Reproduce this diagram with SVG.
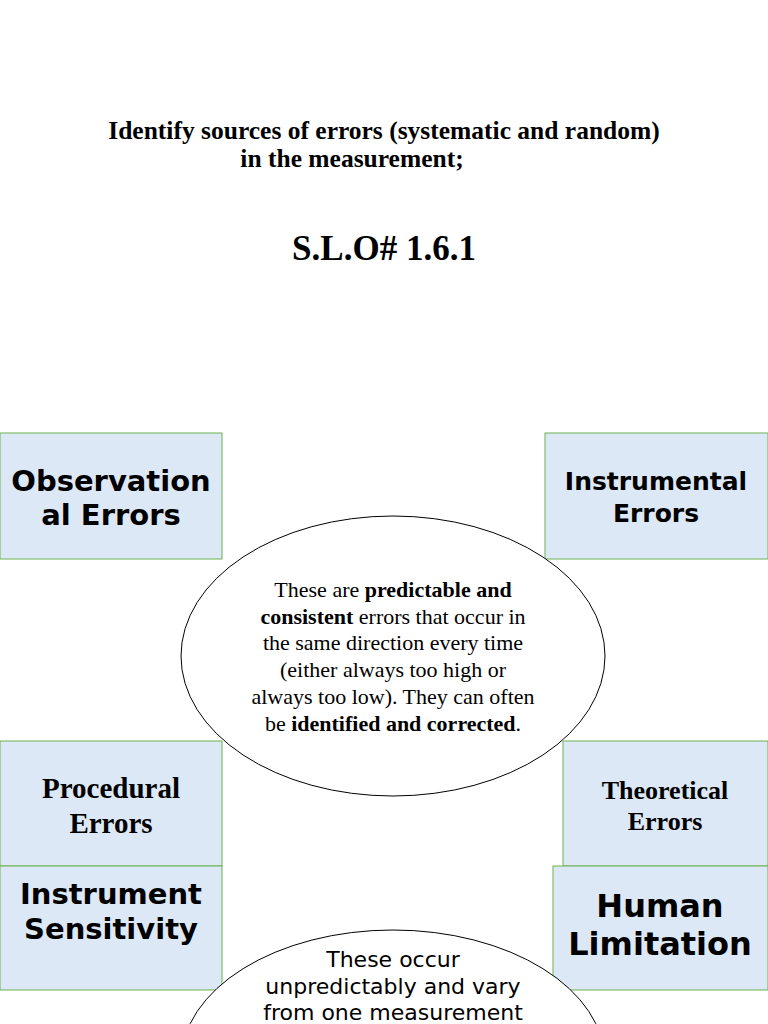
<svg xmlns="http://www.w3.org/2000/svg" width="768" height="1024" viewBox="0 0 768 1024">
<style>
.box{fill:#dce8f5;stroke:#6cb150;stroke-width:1}
.ell{fill:#fff;stroke:#000;stroke-width:1}
.sans{font-family:"DejaVu Sans",sans-serif;font-weight:bold;text-anchor:middle;fill:#000}
.serif{font-family:"Liberation Serif",serif;text-anchor:middle;fill:#000}
</style>
<rect width="768" height="1024" fill="#fff"/>
<g id="title">
<text class="serif" x="384" y="139" font-size="25.5" font-weight="bold">Identify sources of errors (systematic and random)</text>
<text class="serif" x="352" y="167" font-size="25.5" font-weight="bold">in the measurement;</text>
<text class="serif" x="384" y="260" font-size="35" font-weight="bold">S.L.O# 1.6.1</text>
</g>
<g id="connectors"></g>
<g id="observational"><rect class="box" x="0" y="433" width="222" height="126"/>
<text class="sans" x="111" y="491" font-size="29">Observation</text><text class="sans" x="111" y="525" font-size="29">al Errors</text></g>
<g id="instrumental"><rect class="box" x="545" y="433" width="223" height="126"/>
<text class="sans" x="656" y="490" font-size="25">Instrumental</text><text class="sans" x="656" y="522" font-size="25">Errors</text></g>
<g id="systematic"><ellipse class="ell" cx="393" cy="656" rx="212" ry="140"/>
<text class="serif" font-size="22"><tspan x="393" y="597">These are <tspan font-weight="bold">predictable and</tspan></tspan><tspan x="393" y="624"><tspan font-weight="bold">consistent</tspan> errors that occur in</tspan><tspan x="393" y="650">the same direction every time</tspan><tspan x="393" y="677">(either always too high or</tspan><tspan x="393" y="704">always too low). They can often</tspan><tspan x="393" y="731">be <tspan font-weight="bold">identified and corrected</tspan>.</tspan></text></g>
<g id="procedural"><rect class="box" x="0" y="741" width="222" height="125"/>
<text class="serif" x="111" y="798" font-size="29" font-weight="bold">Procedural</text><text class="serif" x="111" y="833" font-size="29" font-weight="bold">Errors</text></g>
<g id="theoretical"><rect class="box" x="563" y="741" width="205" height="125"/>
<text class="serif" x="665" y="799" font-size="26" font-weight="bold">Theoretical</text><text class="serif" x="665" y="830" font-size="26" font-weight="bold">Errors</text></g>
<g id="sensitivity"><rect class="box" x="0" y="866" width="222" height="124"/>
<text class="sans" x="111" y="904" font-size="29">Instrument</text><text class="sans" x="111" y="939" font-size="29">Sensitivity</text></g>
<g id="human"><rect class="box" x="553" y="866" width="215" height="124"/>
<text class="sans" x="660" y="917" font-size="32">Human</text><text class="sans" x="660" y="955" font-size="32">Limitation</text></g>
<g id="random"><ellipse class="ell" cx="393" cy="1062" rx="212" ry="132"/>
<text font-family="DejaVu Sans,sans-serif" font-size="22" text-anchor="middle"><tspan x="393" y="967">These occur</tspan><tspan x="393" y="994">unpredictably and vary</tspan><tspan x="393" y="1020">from one measurement</tspan></text></g>
</svg>
